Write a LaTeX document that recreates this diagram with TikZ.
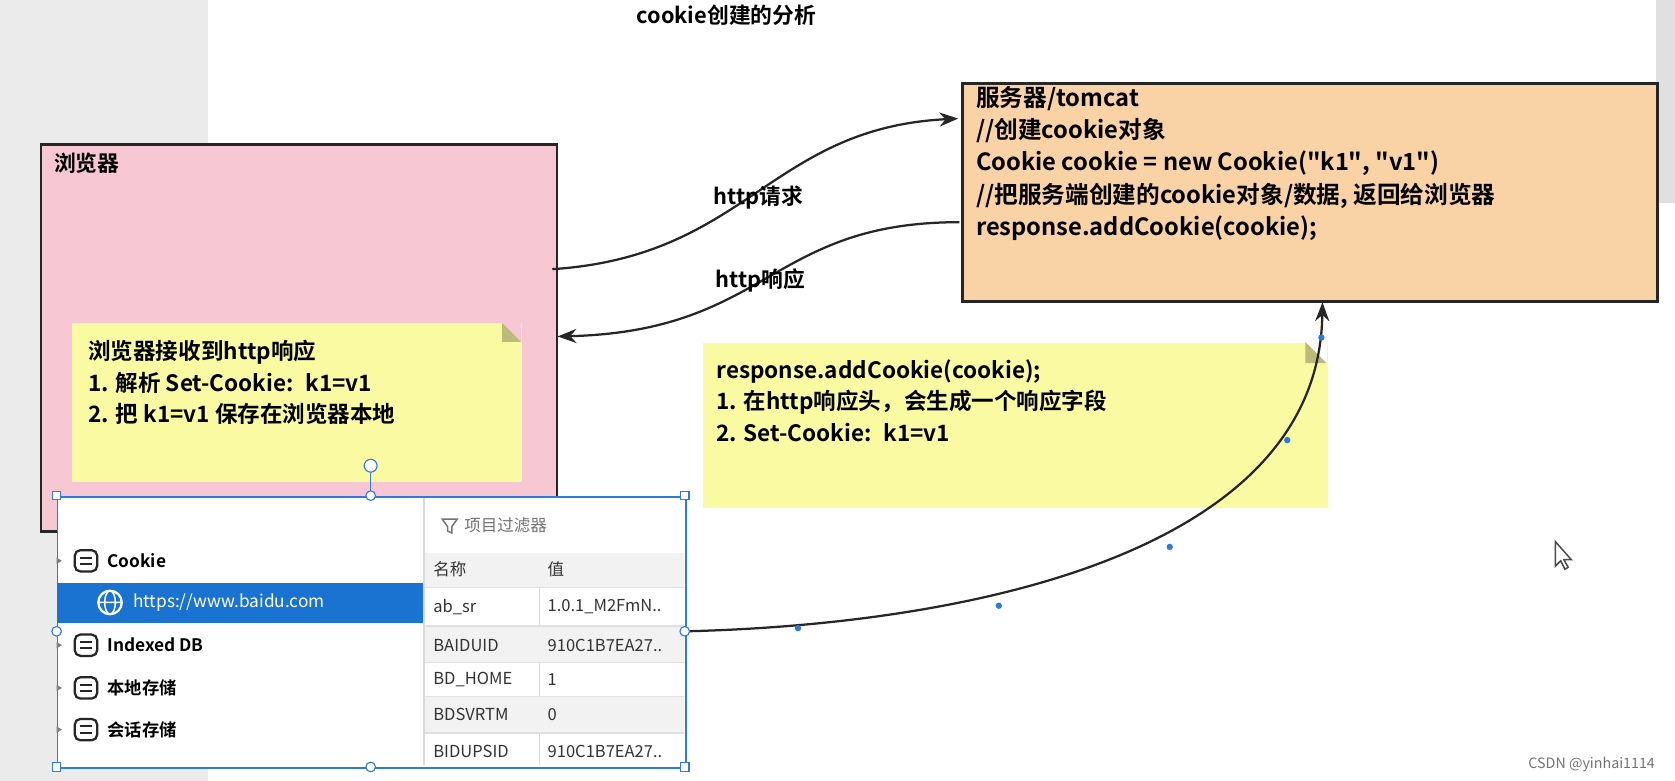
\documentclass[tikz,border=0pt]{standalone}
\usepackage{fontspec}
\setmainfont{Noto Sans CJK SC}[BoldFont={Noto Sans CJK SC Bold}]
\usetikzlibrary{arrows.meta}
\definecolor{pinkbg}{HTML}{F7C7D3}
\definecolor{orangebg}{HTML}{F9D2A6}
\definecolor{notebg}{HTML}{FAFAA2}
\definecolor{selblue}{HTML}{1A73D0}
\definecolor{handle}{HTML}{2F7BD8}
\newcommand{\dq}{\textquotedbl}
\begin{document}
\begin{tikzpicture}[x=0.01cm,y=-0.01cm,
  big/.style={font=\fontsize{5.8}{7.8}\selectfont\bfseries, inner sep=0},
  tree/.style={font=\fontsize{4.6}{6}\selectfont\bfseries, anchor=west, inner sep=0},
  cell/.style={font=\fontsize{4.4}{6}\selectfont, anchor=west, inner sep=0, text=black!80},
  conn/.style={draw=black!85, line width=0.6pt, -{Stealth[length=5pt]}},
  note/.style={fill=notebg, draw=none},
  hdl/.style={draw=handle, fill=white, line width=0.3pt}]
\useasboundingbox (0,0) rectangle (1568,731);
\fill[black!8] (0,0) rectangle (195,731);
\fill[black!12] (1550,0) rectangle (1568,190);
% title
\node[big] (title) at (680,14) {cookie创建的分析};
% browser
\node[draw=black!85, fill=pinkbg, line width=0.7pt, minimum width=4.83cm, minimum height=3.62cm, anchor=north west, inner sep=0] (browser) at (37,134) {};
\node[big, anchor=west] (browserlbl) at (50,153) {浏览器};
% server
\node[draw=black!85, fill=orangebg, line width=0.7pt, minimum width=6.5cm, minimum height=2.04cm, anchor=north west, inner sep=0] (server) at (900,77) {};
\node[big, anchor=north west, align=left, font=\fontsize{6.3}{8.6}\selectfont\bfseries] (servertxt) at (913,80) {服务器/tomcat\\//创建cookie对象\\Cookie cookie = new Cookie(\dq k1\dq, \dq v1\dq)\\//把服务端创建的cookie对象/数据, 返回给浏览器\\response.addCookie(cookie);};
% arrows
\coordinate (reqs) at (517,252);
\coordinate (reqe) at (897,111);
\draw[conn] (reqs) .. controls (700,240) and (720,120) .. (reqe);
\node[big] (req) at (710,185) {http请求};
\coordinate (ress) at (898,208);
\coordinate (rese) at (522,315);
\draw[conn] (ress) .. controls (720,208) and (720,310) .. (rese);
\node[big] (res) at (712,263) {http响应};
% left note
\node[note, minimum width=4.21cm, minimum height=1.48cm, anchor=north west, inner sep=0] (note1) at (67,302) {};
\fill[black!25!notebg] (470,302) -- (488,320) -- (470,320) -- cycle;
\fill[pinkbg] (470,302) -- (488,302) -- (488,320) -- cycle;
\node[big, anchor=north west, align=left, font=\fontsize{6}{8.4}\selectfont\bfseries] (note1txt) at (82,318) {浏览器接收到http响应\\1. 解析 Set-Cookie:~ k1=v1\\2. 把 k1=v1 保存在浏览器本地};
% right note
\node[note, minimum width=5.85cm, minimum height=1.55cm, anchor=north west, inner sep=0] (note2) at (657,320) {};
\fill[black!25!notebg] (1222,320) -- (1242,340) -- (1222,340) -- cycle;
\fill[white] (1222,320) -- (1242,320) -- (1242,340) -- cycle;
\node[big, anchor=north west, align=left, font=\fontsize{6}{8.4}\selectfont\bfseries] (note2txt) at (670,336) {response.addCookie(cookie);\\1. 在http响应头，会生成一个响应字段\\2. Set-Cookie:~ k1=v1};
% screenshot panel
\node[draw=handle, fill=white, line width=0.5pt, minimum width=5.88cm, minimum height=2.54cm, anchor=north west, inner sep=0] (panel) at (53,464) {};
\fill[selblue] (53,546) rectangle (397,583);
\draw[black!15] (397,466) -- (397,716);
\draw[black!15] (505,518) -- (505,716);
\fill[black!5] (398,518) rectangle (640,550);
\fill[black!5] (398,586) rectangle (640,620);
\fill[black!5] (398,652) rectangle (640,686);
\foreach \y in {550,586,620,652,686} \draw[black!12] (398,\y) -- (640,\y);
\foreach \y in {525,604,644,683} {
  \draw[black!85, line width=0.6pt, rounded corners=1.5pt] (70,\y-10) rectangle (91,\y+10);
  \draw[black!85, line width=0.5pt] (75,\y-3) -- (86,\y-3) (75,\y+3) -- (86,\y+3);
  \fill[black!50] (53,\y-3) -- (58,\y) -- (53,\y+3) -- cycle;
}
\draw[white, line width=0.6pt] (103,564) circle (11);
\draw[white, line width=0.4pt] (103,564) ellipse (5 and 11) (92,564) -- (114,564);
\node[tree] (tcookie) at (100,525) {Cookie};
\node[tree, text=white, font=\fontsize{4.6}{6}\selectfont] (tbaidu) at (124,564) {https://www.baidu.com};
\node[tree] (tidb) at (100,604) {Indexed DB};
\node[tree] (tlocal) at (100,644) {本地存储};
\node[tree] (tsess) at (100,683) {会话存储};
\draw[black!55, line width=0.4pt] (414,486) -- (428,486) -- (423,493) -- (423,499) -- (419,497) -- (419,493) -- cycle;
\node[cell, text=black!55] (filter) at (434,492) {项目过滤器};
\node[cell] (h1) at (405,533) {名称};
\node[cell] (h2) at (512,533) {值};
\node[cell] (r1a) at (405,568) {ab\_sr};
\node[cell] (r1b) at (512,568) {1.0.1\_M2FmN..};
\node[cell] (r2a) at (405,604) {BAIDUID};
\node[cell] (r2b) at (512,604) {910C1B7EA27..};
\node[cell] (r3a) at (405,636) {BD\_HOME};
\node[cell] (r3b) at (512,636) {1};
\node[cell] (r4a) at (405,669) {BDSVRTM};
\node[cell] (r4b) at (512,669) {0};
\node[cell] (r5a) at (405,703) {BIDUPSID};
\node[cell] (r5b) at (512,703) {910C1B7EA27..};
% handles
\draw[handle, line width=0.4pt] (347,464) -- (347,442);
\draw[hdl] (347,436) circle (6);
\foreach \p in {(53,464),(641,464),(53,718),(641,718)} \draw[hdl] \p ++(-4,-4) rectangle ++(8,8);
\foreach \p in {(347,464),(53,591),(347,718)} \draw[hdl] \p circle (4.5);
% curve panel -> server
\coordinate (cs) at (641,591);
\coordinate (ce) at (1238,283);
\draw[conn] (cs) .. controls (900,585) and (1235,520) .. (ce);
\draw[hdl] (cs) circle (4.5);
\foreach \p in {(747,588),(935,567),(1095,512),(1205,412),(1237,316)} \fill[handle] \p circle (3);
% cursor
\draw[black!70, fill=white, line width=0.4pt] (1456,507) -- (1456,530) -- (1461,525) -- (1465,533) -- (1468,531) -- (1464,524) -- (1471,524) -- cycle;
\node[font=\fontsize{3.8}{5}\selectfont, text=black!55, inner sep=0] (wm) at (1490,716) {CSDN @yinhai1114};
\end{tikzpicture}
\end{document}
